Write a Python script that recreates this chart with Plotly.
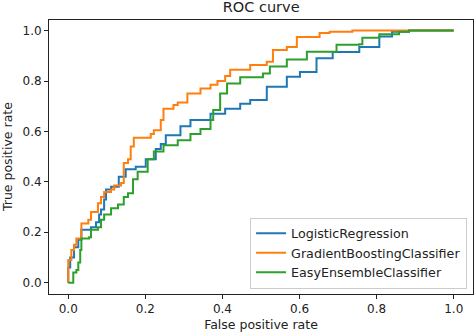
import plotly.graph_objects as go

lr_fpr = [0, 0, 0.005, 0.015, 0.026, 0.034, 0.046, 0.059, 0.072, 0.080, 0.085, 0.093, 0.098, 0.111, 0.131, 0.149, 0.175, 0.201, 0.227, 0.240, 0.253, 0.291, 0.317, 0.369, 0.407, 0.446, 0.472, 0.515, 0.567, 0.601, 0.644, 0.686, 0.755, 0.807, 0.840, 0.884, 1.0]
lr_tpr = [0, 0.06, 0.10, 0.14, 0.17, 0.21, 0.21, 0.22, 0.24, 0.27, 0.29, 0.33, 0.37, 0.38, 0.42, 0.45, 0.46, 0.49, 0.53, 0.55, 0.585, 0.62, 0.645, 0.67, 0.69, 0.71, 0.725, 0.777, 0.817, 0.836, 0.89, 0.915, 0.935, 0.977, 0.995, 1.0, 1.0]

gb_fpr = [0, 0, 0.008, 0.015, 0.021, 0.034, 0.052, 0.059, 0.077, 0.085, 0.093, 0.111, 0.119, 0.137, 0.144, 0.155, 0.162, 0.170, 0.214, 0.222, 0.240, 0.247, 0.273, 0.284, 0.309, 0.343, 0.369, 0.387, 0.407, 0.420, 0.472, 0.515, 0.531, 0.567, 0.593, 0.652, 0.678, 0.737, 1.0]
gb_tpr = [0, 0.09, 0.13, 0.15, 0.175, 0.235, 0.25, 0.28, 0.315, 0.34, 0.36, 0.37, 0.385, 0.395, 0.475, 0.49, 0.54, 0.575, 0.59, 0.605, 0.645, 0.69, 0.705, 0.715, 0.75, 0.77, 0.785, 0.80, 0.82, 0.845, 0.863, 0.876, 0.923, 0.935, 0.975, 0.99, 0.995, 1.0, 1.0]

ee_fpr = [0, 0.010, 0.013, 0.021, 0.026, 0.031, 0.034, 0.054, 0.059, 0.077, 0.085, 0.093, 0.111, 0.129, 0.144, 0.155, 0.168, 0.180, 0.206, 0.222, 0.247, 0.284, 0.317, 0.343, 0.369, 0.376, 0.394, 0.412, 0.446, 0.505, 0.523, 0.567, 0.619, 0.696, 0.755, 0.763, 0.807, 0.858, 0.884, 1.0]
ee_tpr = [0, 0, 0.04, 0.05, 0.08, 0.13, 0.175, 0.18, 0.21, 0.22, 0.25, 0.27, 0.295, 0.31, 0.34, 0.355, 0.41, 0.44, 0.49, 0.52, 0.545, 0.565, 0.59, 0.61, 0.645, 0.685, 0.75, 0.79, 0.815, 0.83, 0.858, 0.885, 0.916, 0.944, 0.946, 0.972, 0.985, 0.995, 1.0, 1.0]

names = ["LogisticRegression", "GradientBoostingClassifier", "EasyEnsembleClassifier"]
colors = ["#1f77b4", "#ff7f0e", "#2ca02c"]
x_ticks = [0.0, 0.2, 0.4, 0.6, 0.8, 1.0]
y_ticks = [0.0, 0.2, 0.4, 0.6, 0.8, 1.0]

FONT = "DejaVu Sans"
fig = go.Figure()
for name, fx, ty, c in zip(names, [lr_fpr, gb_fpr, ee_fpr], [lr_tpr, gb_tpr, ee_tpr], colors):
    fig.add_trace(go.Scatter(x=fx, y=ty, mode="lines", name=name,
                             line=dict(color=c, width=2, shape="hv")))

axis_common = dict(showgrid=False, zeroline=False, showline=True, linecolor="#222",
                   linewidth=1, mirror=True, ticks="outside", ticklen=4, tickcolor="#222",
                   tickfont=dict(family=FONT, size=12, color="#222"))
fig.update_layout(
    width=474, height=335,
    margin=dict(l=49, r=1, t=20, b=41),
    paper_bgcolor="white", plot_bgcolor="white",
    title=dict(text="ROC curve", x=0.551, xanchor="center", y=0.978, yanchor="middle",
               font=dict(family=FONT, size=14.5, color="#222")),
    xaxis=dict(range=[-0.05, 1.05], tickvals=x_ticks, ticktext=[f"{v:.1f}" for v in x_ticks],
               title=dict(text="False positive rate", font=dict(family=FONT, size=12.5, color="#222"), standoff=4),
               **axis_common),
    yaxis=dict(range=[-0.045, 1.042], tickvals=y_ticks, ticktext=[f"{v:.1f}" for v in y_ticks],
               **axis_common),
    legend=dict(x=0.986, y=0.02, xanchor="right", yanchor="bottom",
                bgcolor="rgba(255,255,255,0.9)", bordercolor="#ccc", borderwidth=1,
                font=dict(family=FONT, size=12.7, color="#222"), tracegroupgap=0),
    showlegend=True,
    annotations=[dict(text="True positive rate", xref="paper", yref="paper", x=0, y=0.5,
                      xanchor="center", yanchor="middle", xshift=-42, textangle=-90, showarrow=False,
                      font=dict(family=FONT, size=12.5, color="#222"))],
)
fig.write_html("out.html")
